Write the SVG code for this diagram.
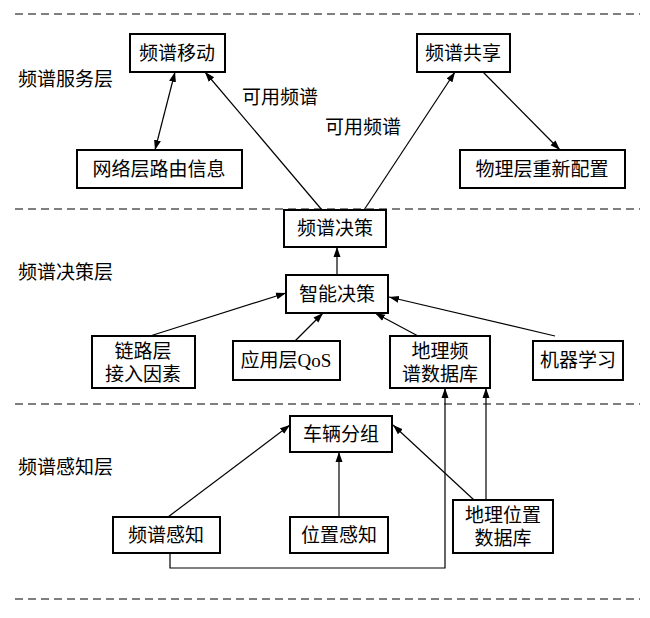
<svg xmlns="http://www.w3.org/2000/svg" width="650" height="618" viewBox="0 0 650 618">
<style>
text{font-family:"Liberation Serif","Noto Sans CJK SC",serif;font-size:19px;fill:#000;text-anchor:middle}
.lab{text-anchor:start}
rect{fill:#fff;stroke:#000;stroke-width:2}
.dash{stroke:#555;stroke-width:1.5;stroke-dasharray:8,5;fill:none}
.c line,.c path{stroke:#000;stroke-width:1.2;fill:none}
</style>
<defs>
<marker id="a" viewBox="0 0 10 10" refX="10" refY="5" markerWidth="10" markerHeight="10" markerUnits="userSpaceOnUse" orient="auto-start-reverse"><path d="M0,1.5L10,5L0,8.5Z" fill="#000"/></marker>
</defs>
<rect width="650" height="618" style="fill:#fff;stroke:none"/>
<g id="layers">
<line class="dash" x1="15" y1="14" x2="640" y2="14"/>
<line class="dash" x1="15" y1="209" x2="640" y2="209"/>
<line class="dash" x1="15" y1="404" x2="640" y2="404"/>
<line class="dash" x1="15" y1="599" x2="640" y2="599"/>
<text class="lab" x="18" y="86">频谱服务层</text>
<text class="lab" x="18" y="279">频谱决策层</text>
<text class="lab" x="18" y="474">频谱感知层</text>
</g>
<g class="c" id="connectors">
<line x1="175" y1="72" x2="155" y2="150" marker-start="url(#a)" marker-end="url(#a)"/>
<line x1="322" y1="210" x2="205" y2="72" marker-end="url(#a)"/>
<line x1="364" y1="210" x2="455" y2="72" marker-end="url(#a)"/>
<line x1="483" y1="72" x2="560" y2="150" marker-end="url(#a)"/>
<line x1="337" y1="275" x2="337" y2="247" marker-end="url(#a)"/>
<line x1="150" y1="336" x2="286" y2="293" marker-end="url(#a)"/>
<line x1="295" y1="341" x2="323" y2="313" marker-end="url(#a)"/>
<line x1="418" y1="336" x2="375" y2="313" marker-end="url(#a)"/>
<line x1="555" y1="336" x2="389" y2="297" marker-end="url(#a)"/>
<line x1="168" y1="517" x2="290" y2="425" marker-end="url(#a)"/>
<line x1="339" y1="517" x2="339" y2="452" marker-end="url(#a)"/>
<line x1="474" y1="500" x2="393" y2="425" marker-end="url(#a)"/>
<path d="M170,553V568H445V388" marker-end="url(#a)"/>
<line x1="486" y1="500" x2="486" y2="388" marker-end="url(#a)"/>
<text x="280" y="104">可用频谱</text>
<text x="363" y="134">可用频谱</text>
</g>
<g id="n1"><rect x="130" y="34" width="95" height="38"/><text x="177" y="60">频谱移动</text></g>
<g id="n2"><rect x="417" y="34" width="93" height="38"/><text x="463" y="60">频谱共享</text></g>
<g id="n3"><rect x="77" y="150" width="165" height="38"/><text x="159" y="176">网络层路由信息</text></g>
<g id="n4"><rect x="460" y="150" width="165" height="38"/><text x="542" y="176">物理层重新配置</text></g>
<g id="n5"><rect x="284" y="210" width="102" height="37"/><text x="335" y="235">频谱决策</text></g>
<g id="n6"><rect x="286" y="275" width="102" height="38"/><text x="337" y="301">智能决策</text></g>
<g id="n7"><rect x="92" y="336" width="103" height="52"/><text x="143" y="358">链路层</text><text x="143" y="381">接入因素</text></g>
<g id="n8"><rect x="233" y="341" width="107" height="39"/><text x="286" y="367">应用层QoS</text></g>
<g id="n9"><rect x="390" y="336" width="100" height="52"/><text x="440" y="358">地理频</text><text x="440" y="381">谱数据库</text></g>
<g id="n10"><rect x="533" y="341" width="90" height="39"/><text x="578" y="367">机器学习</text></g>
<g id="n11"><rect x="290" y="416" width="102" height="36"/><text x="341" y="441">车辆分组</text></g>
<g id="n12"><rect x="113" y="517" width="107" height="36"/><text x="166" y="542">频谱感知</text></g>
<g id="n13"><rect x="290" y="517" width="98" height="36"/><text x="339" y="542">位置感知</text></g>
<g id="n14"><rect x="453" y="500" width="100" height="53"/><text x="503" y="522">地理位置</text><text x="503" y="545">数据库</text></g>
</svg>
